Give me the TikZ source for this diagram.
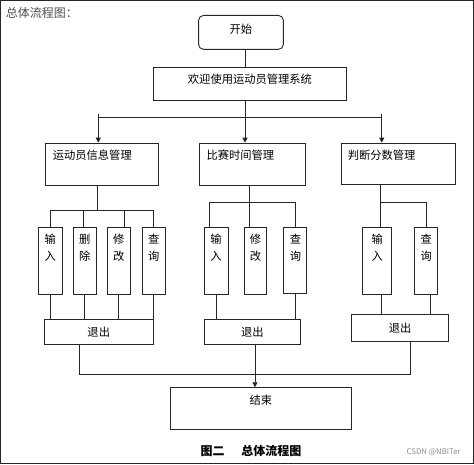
\documentclass[tikz,border=0pt]{standalone}
\usepackage{fontspec}
\setmainfont{Noto Sans CJK SC}
\usetikzlibrary{arrows.meta}

\begin{document}
\begin{tikzpicture}[x=1pt, y=-1pt, line width=0.9pt,
	box/.style={draw=black!85, rectangle, inner sep=0pt},
	intext/.style={anchor=north, inner sep=0pt, yshift=-7pt, align=center,
		font=\fontsize{11.3}{17}\selectfont},
	mgrtext/.style={anchor=north west, inner sep=0pt, xshift=7.5pt, yshift=-7pt,
		font=\fontsize{11.3}{13}\selectfont},
	arr/.style={-{Triangle[length=5pt,width=5pt]}},
	every path/.style={draw=black!85}]
	% page frame
	\useasboundingbox (0,0) rectangle (474,464);

	% title and caption
	\node[anchor=west, inner sep=0pt, text=black!70, font=\fontsize{12}{14}\selectfont] (title) at (5,13) {总体流程图：};
	\node[inner sep=0pt, font=\bfseries\fontsize{12}{14}\selectfont] (caption) at (251,451) {图二\hspace{17pt}总体流程图};
	\node[inner sep=0pt, text=black!45, font=\fontsize{7.8}{9}\selectfont] (mark) at (434,453) {CSDN @NBITer};

	% start and welcome
	\node[box, rounded corners=5pt, minimum width=85, minimum height=34,
		label={[intext, yshift=-1.5pt]north:开始}] (start) at (241,32) {};
	\node[box, minimum width=194, minimum height=33,
		label={[intext]north:欢迎使用运动员管理系统}] (welcome) at (250,83.5) {};

	% managers
	\node[box, minimum width=113, minimum height=42, label={[mgrtext]north west:运动员信息管理}] (mgr1) at (101.5,164) {};
	\node[box, minimum width=107, minimum height=42, label={[mgrtext]north west:比赛时间管理}] (mgr2) at (252.5,164) {};
	\node[box, minimum width=114, minimum height=41, label={[mgrtext, xshift=-1pt]north west:判断分数管理}] (mgr3) at (398.5,163.5) {};

	% group 1
	\node[box, minimum width=24, minimum height=68, label={[intext]north:{输\\入}}] (in1) at (50,261) {};
	\node[box, minimum width=23, minimum height=68, label={[intext]north:{删\\除}}] (del1) at (84.5,261) {};
	\node[box, minimum width=23, minimum height=68, label={[intext]north:{修\\改}}] (mod1) at (118.5,261) {};
	\node[box, minimum width=23, minimum height=68, label={[intext]north:{查\\询}}] (qry1) at (153.5,261) {};
	\node[box, minimum width=109, minimum height=25, font=\fontsize{11.3}{13}\selectfont] (exit1) at (98.5,332.5) {退出};

	% group 2
	\node[box, minimum width=24, minimum height=68, label={[intext]north:{输\\入}}] (in2) at (216,261) {};
	\node[box, minimum width=23, minimum height=68, label={[intext]north:{修\\改}}] (mod2) at (255.5,261) {};
	\node[box, minimum width=23, minimum height=67, label={[intext]north:{查\\询}}] (qry2) at (295.5,260.5) {};
	\node[box, minimum width=97, minimum height=25, font=\fontsize{11.3}{13}\selectfont] (exit2) at (252.5,332.5) {退出};

	% group 3
	\node[box, minimum width=29, minimum height=68, label={[intext]north:{输\\入}}] (in3) at (377.5,261) {};
	\node[box, minimum width=23, minimum height=68, label={[intext]north:{查\\询}}] (qry3) at (426.5,261) {};
	\node[box, minimum width=97, minimum height=27, font=\fontsize{11.3}{13}\selectfont] (exit3) at (400.5,328.5) {退出};

	% end
	\node[box, minimum width=182, minimum height=42, label={[intext]north:结束}] (endbox) at (261,409) {};

	% helper points
	\coordinate (trunk) at (245,0);
	\coordinate (barL) at (98,117);
	\coordinate (barR) at (382,117);
	\coordinate (bus1) at (97,210);
	\coordinate (bus2) at (249,202);
	\coordinate (bus3) at (381,202);
	\coordinate (join) at (0,375);

	% start down to managers
	\draw (start.south -| trunk) -- (welcome.north -| trunk);
	\draw[arr] (welcome.south -| trunk) -- (mgr2.north -| trunk);
	\draw (barL) -- (barR);
	\draw[arr] ([yshift=3pt]barL) -- (mgr1.north -| barL);
	\draw[arr] ([yshift=3pt]barR) -- (mgr3.north -| barR);

	% group 1 wires
	\draw (mgr1.south -| bus1) -- (bus1);
	\draw (in1.north) |- (bus1) -| (qry1.north);
	\draw ([xshift=-1.5pt]del1.north) -- ([xshift=-1.5pt]del1.north |- bus1);
	\draw ([xshift=5.5pt]mod1.north) -- ([xshift=5.5pt]mod1.north |- bus1);
	\draw (in1.south) -- (in1.south |- exit1.north);
	\draw (del1.south) -- (del1.south |- exit1.north);
	\draw (mod1.south) -- (mod1.south |- exit1.north);
	\draw (qry1.south) -- (qry1.south |- exit1.north);

	% group 2 wires
	\draw (mgr2.south -| bus2) -- ([xshift=-6.5pt]mod2.north);
	\draw ([xshift=-7pt]in2.north) |- (bus2) -| (qry2.north);
	\draw (in2.south) -- (in2.south |- exit2.north);
	\draw (qry2.south) -- (qry2.south |- exit2.north);

	% group 3 wires
	\draw (mgr3.south -| bus3) -- ([xshift=3.5pt]in3.north);
	\draw (bus3) -| (qry3.north);
	\draw ([xshift=4pt]in3.south) -- ([xshift=4pt]in3.south |- exit3.north);
	\draw ([xshift=4.5pt]qry3.south) -- ([xshift=4.5pt]qry3.south |- exit3.north);

	% exits to end
	\draw ([xshift=-19.5pt]exit1.south) |- ([xshift=10.5pt]exit3.south |- join) -- ([xshift=10.5pt]exit3.south);
	\draw[arr] ([xshift=2.5pt]exit2.south) -- ([xshift=2.5pt]exit2.south |- endbox.north);
\end{tikzpicture}
\end{document}
